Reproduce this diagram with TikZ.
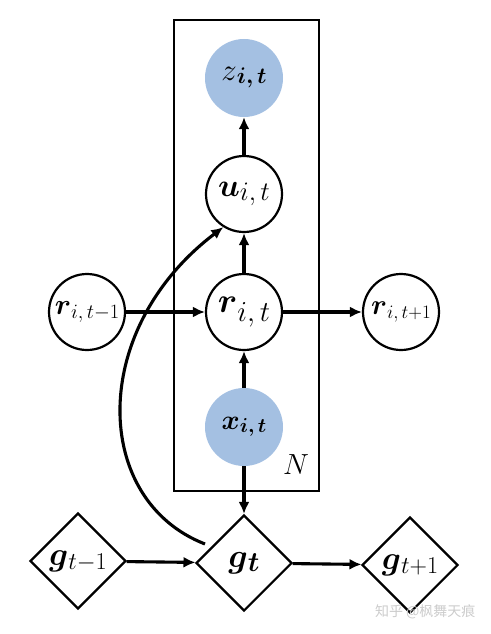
\documentclass[tikz,border=0pt]{standalone}
\usepackage{fix-cm}
\usepackage{amsmath,bm,graphicx}
\usepackage{fontspec}
\newfontfamily\cjkfont{Noto Sans CJK SC}
\usetikzlibrary{arrows.meta,shapes.geometric}
\newcommand{\lab}[2]{\scalebox{#1}{$#2$}}
\newcommand{\sub}[3]{\raisebox{#1}{\fontsize{#2}{#2}\selectfont$#3$}}
\definecolor{obsblue}{RGB}{164,192,226}
\tikzset{
  var/.style={circle,draw=black,line width=2.2pt,minimum size=76pt,inner sep=0pt,font=\fontsize{30}{34}\selectfont},
  obs/.style={circle,fill=obsblue,minimum size=78pt,inner sep=0pt,font=\fontsize{30}{34}\selectfont},
  glob/.style={diamond,draw=black,line width=2.2pt,minimum width=96pt,minimum height=96pt,inner sep=0pt,font=\fontsize{30}{34}\selectfont},
  edge/.style={line width=3.1pt,-{Latex[length=12pt,width=11pt]}},
  plate/.style={draw=black,line width=2.2pt}
}
\begin{document}
\begin{tikzpicture}[x=1pt,y=-1pt]
\useasboundingbox (0,0) rectangle (490,634);
\draw[plate] (174,20) rectangle (319,491);
\node[font=\fontsize{30}{34}\selectfont] (N) at (296,465) {\lab{0.97}{N}};
\node[obs] (z) at (244,78) {\lab{1.03}{z\sub{-3pt}{22}{\bm{i,t}}}};
\node[var] (u) at (244,194) {\lab{1.07}{\bm{u}\sub{-4pt}{25}{i,t}}};
\node[var] (r) at (244,312) {\lab{1.16}{\bm{r}\sub{-8pt}{25}{i,t}}};
\node[obs] (x) at (244,427) {\lab{0.92}{\bm{x}\sub{-3pt}{22}{\bm{i,t}}}};
\node[var] (rm) at (87,312) {\lab{0.97}{\bm{r}\sub{-4pt}{21}{i,t{-}1}}};
\node[var] (rp) at (401,312) {\lab{0.95}{\bm{r}\sub{-4pt}{20}{i,t{+}1}}};
\node[glob] (g) at (244,563) {\lab{1.12}{\bm{g}\sub{-4pt}{25}{\bm{t}}}};
\node[glob] (gm) at (78,561) {\lab{1.1}{\bm{g}\sub{-4pt}{22}{t{-}1}}};
\node[glob] (gp) at (410,565) {\lab{1.1}{\bm{g}\sub{-4pt}{22}{t{+}1}}};
\coordinate (cs) at (205,544);
\draw[edge] (u) -- (z);
\draw[edge] (r) -- (u);
\draw[edge] (x) -- (r);
\draw[edge] (rm) -- (r);
\draw[edge] (r) -- (rp);
\draw[edge] (x) -- (g);
\draw[edge] (gm) -- (g);
\draw[edge] (g) -- (gp);
\draw[edge] (cs) .. controls (92,500) and (88,330) .. (u.238);
\node[text=black!20,font=\cjkfont\fontsize{14}{16}\selectfont,anchor=east] (wm) at (479,612) {知乎 @枫舞天痕};
\end{tikzpicture}
\end{document}
